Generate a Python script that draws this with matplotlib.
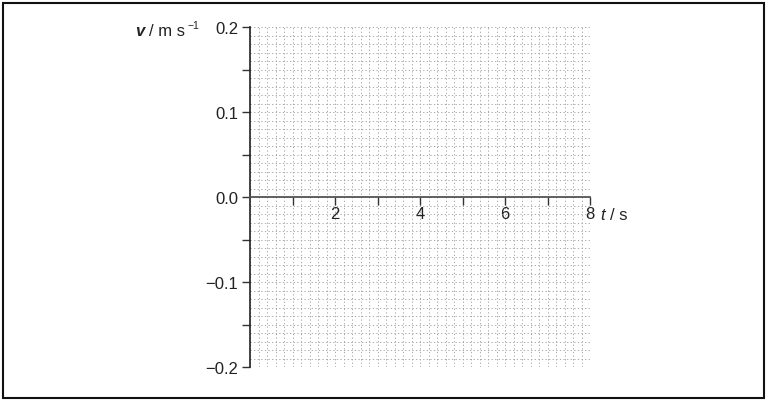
import matplotlib
matplotlib.use('Agg')
import matplotlib.pyplot as plt
import matplotlib.ticker as mticker
from matplotlib.patches import Rectangle
import numpy as np

plt.rcParams['font.family'] = ['Liberation Sans', 'DejaVu Sans']

# axis ranges / ticks
t_range = [0, 8]
v_range = [-0.2, 0.2]
t_ticks = [1, 2, 3, 4, 5, 6, 7, 8]
t_labelled = [2, 4, 6, 8]
v_ticks = [-0.2, -0.15, -0.1, -0.05, 0.0, 0.05, 0.1, 0.15, 0.2]
v_labelled = [-0.2, -0.1, 0.0, 0.1, 0.2]
t_grid_step = 0.2
v_grid_step = 0.01

W, H = 768, 402
fig = plt.figure(figsize=(W/100., H/100.), dpi=100)
ax = fig.add_axes([250./W, 1 - 368./H, 340./W, 340./H])

ax.set_xlim(t_range)
ax.set_ylim(v_range)

# dotted graph-paper grid
ax.xaxis.set_major_locator(mticker.FixedLocator(t_ticks))
ax.xaxis.set_minor_locator(mticker.MultipleLocator(t_grid_step))
ax.yaxis.set_major_locator(mticker.FixedLocator(v_ticks))
ax.yaxis.set_minor_locator(mticker.MultipleLocator(v_grid_step))
ax.grid(which='both', color='#a8a8a8', linestyle=(0, (1.3, 2.4)), linewidth=0.7)
ax.set_axisbelow(True)

def tfmt(x, pos):
    return '%d' % x if int(round(x)) in t_labelled else ''

def vfmt(y, pos):
    for lv in v_labelled:
        if abs(y - lv) < 1e-6:
            return ('%.1f' % lv).replace('-', '\u2212')
    return ''

ax.xaxis.set_major_formatter(mticker.FuncFormatter(tfmt))
ax.yaxis.set_major_formatter(mticker.FuncFormatter(vfmt))

for s in ['top', 'right']:
    ax.spines[s].set_visible(False)
ax.spines['bottom'].set_position(('data', 0))
ax.spines['bottom'].set_color('#555555')
ax.spines['bottom'].set_linewidth(1.3)
ax.spines['left'].set_color('#222222')
ax.spines['left'].set_linewidth(1.2)

ax.tick_params(axis='x', which='major', direction='out', length=5.5, width=1.0,
               color='#333333', pad=1.0, labelsize=12, labelcolor='#222222')
ax.tick_params(axis='y', which='major', direction='out', length=5.5, width=1.0,
               color='#333333', pad=3.0, labelsize=12, labelcolor='#222222')
ax.tick_params(which='minor', length=0)

# axis labels
fig.text(135./W, 1 - 36./H, 'v', fontsize=12, fontweight='bold', fontstyle='italic',
         color='#222222', va='baseline')
fig.text(149./W, 1 - 36./H, '/ m s', fontsize=12, color='#222222', va='baseline')
fig.text(187./W, 1 - 29./H, '\u22121', fontsize=7.5, color='#222222', va='baseline')

fig.text(600./W, 1 - 220./H, 't', fontsize=12, fontstyle='italic', color='#222222', va='baseline')
fig.text(610./W, 1 - 220./H, '/ s', fontsize=12, color='#222222', va='baseline')

# outer frame
fig.patches.append(Rectangle((3./W, 3./H), 761./W, 395./H, transform=fig.transFigure,
                             fill=False, edgecolor='#111111', linewidth=1.5))

fig.savefig('out.png', dpi=100)
